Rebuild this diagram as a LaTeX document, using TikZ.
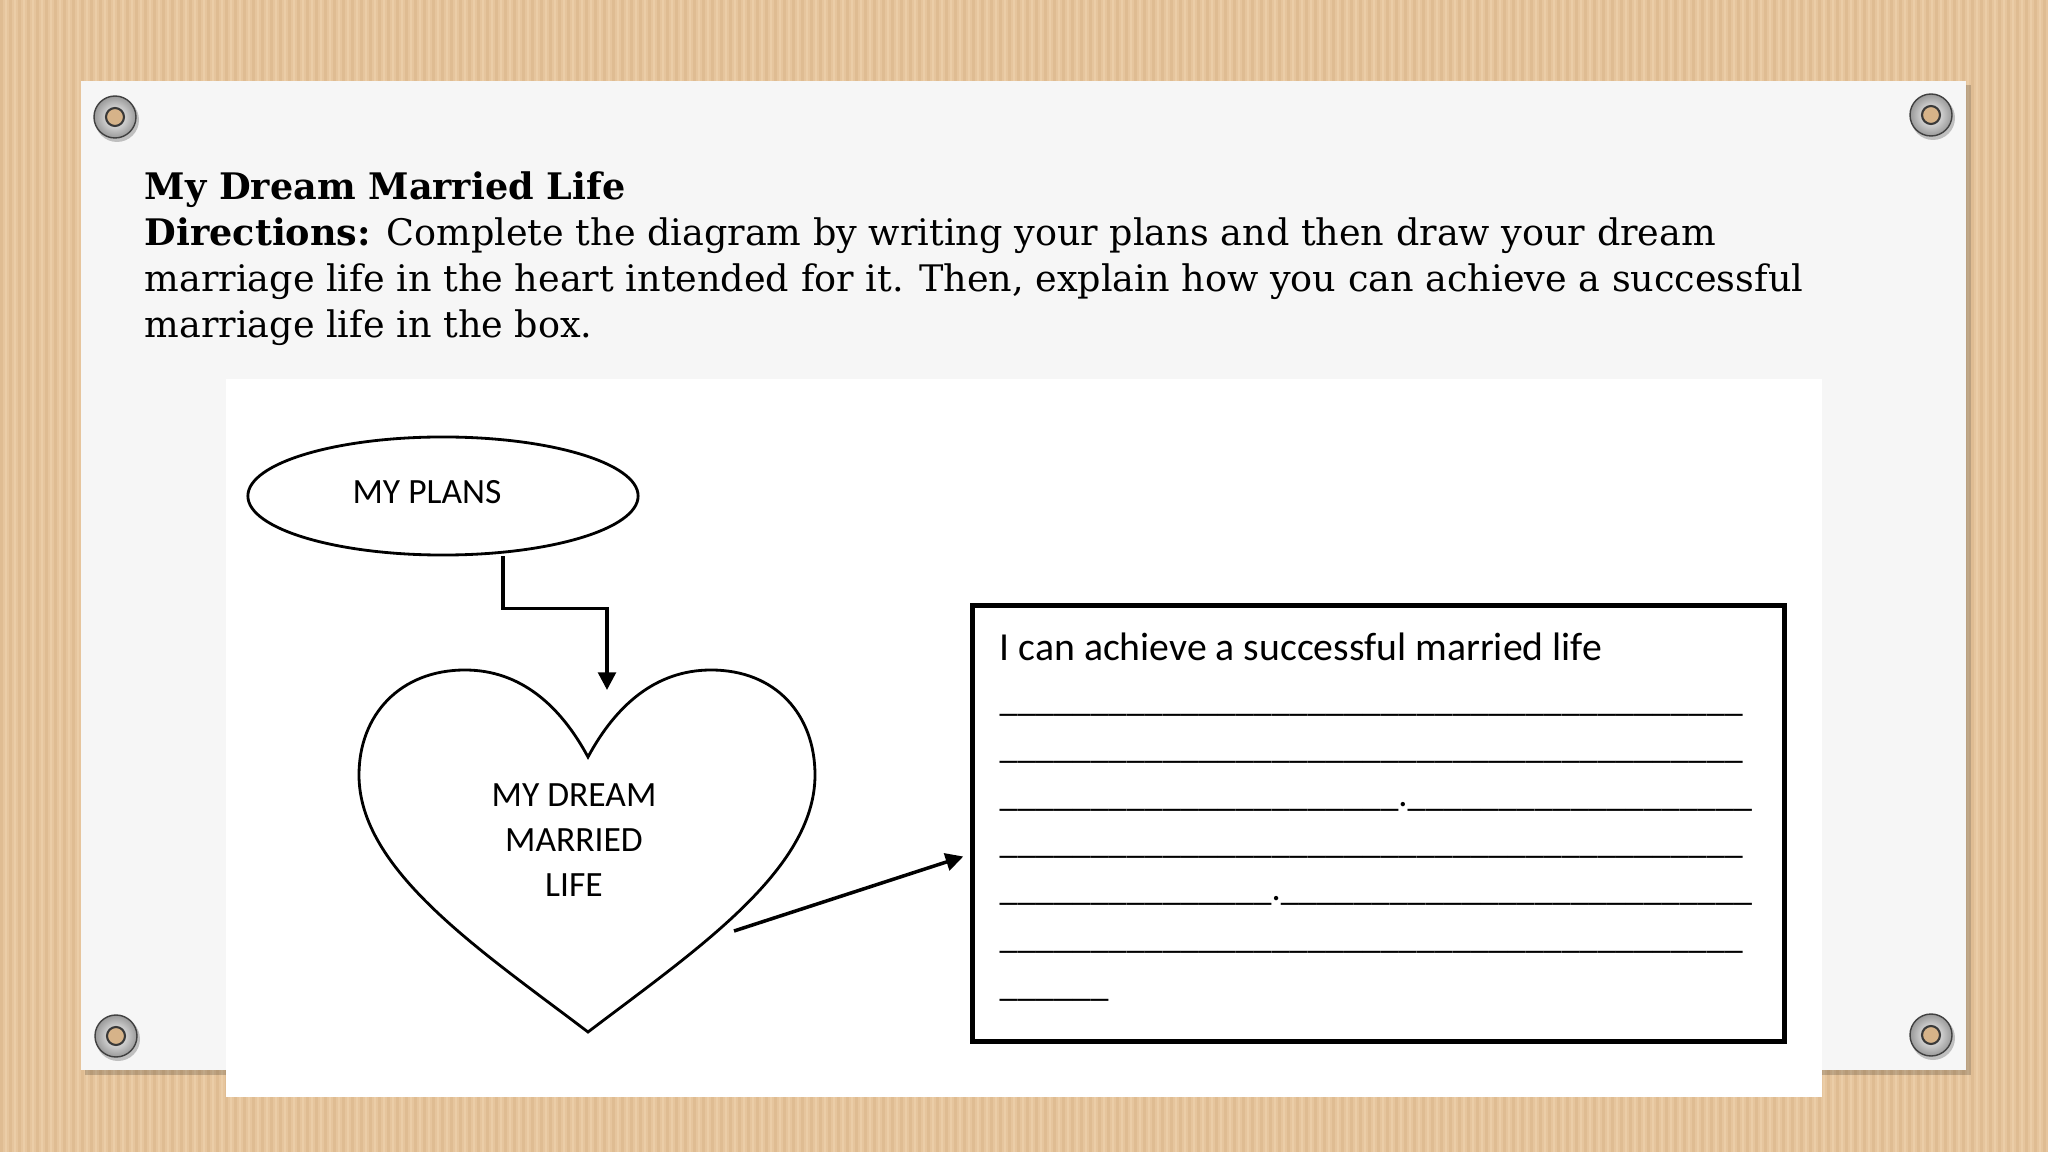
\documentclass[tikz,border=0pt]{standalone}
\usepackage{fontspec}
\setmainfont{DejaVu Serif}
\newfontfamily\calibri{Carlito}
\usetikzlibrary{calc}
\usetikzlibrary{shapes.geometric}
\usetikzlibrary{arrows.meta}
\definecolor{board}{HTML}{E6C59D}
\definecolor{boardline}{HTML}{DFBC92}
\definecolor{boardlight}{HTML}{EBCDA7}
\definecolor{sheet}{HTML}{F6F6F6}
\definecolor{hole}{HTML}{D6B389}
\tikzset{%
  outline/.style={draw=black,line width=0.8pt},
  flow/.style={line width=1pt,-{Triangle[length=5pt,width=5pt]}},
  plain/.style={font=\calibri\fontsize{10.1}{12.9}\selectfont,inner sep=0pt},
  blanks/.style={plain,anchor=base west,font=\calibri\fontsize{10.35}{12}\selectfont},
  heading/.style={anchor=base west,align=left,inner sep=0pt,
                  font=\fontsize{10.4}{13.1}\selectfont},
  answerbox/.style={draw=black,line width=1.4pt,minimum width=8.11cm,
                    minimum height=4.35cm,inner sep=0pt},
  grommet/.pic={
    \fill[black,opacity=0.22] (2,3) circle (22);
    \shade[inner color=white,outer color=gray!80] (0,0) circle (21);
    \draw[gray!50!black,line width=0.4pt] (0,0) circle (21);
    \fill[hole] (0,0) circle (9);
    \draw[gray!45!black,line width=0.6pt] (0,0) circle (9);
  },
}
\newcommand{\blank}[1]{\foreach\rep in {1,...,#1}{\_}}

\begin{document}
\begin{tikzpicture}[x=0.01cm,y=-0.01cm]
  \useasboundingbox (0,0) rectangle (2048,1152);
  \fill[board] (0,0) rectangle (2048,1152);
  \foreach \x in {0,9,...,2048} {
    \fill[boardline] (\x,0) rectangle ++(3,1152);
    \fill[boardlight] (\x+5,0) rectangle ++(2,1152);
  }
  \fill[black,opacity=0.18] (85,85) rectangle (1971,1075);
  \fill[sheet] (81,81) rectangle (1966,1070);
  \fill[white] (226,379) rectangle (1822,1097);
  \pic at (115,117) {grommet};
  \pic at (1931,115) {grommet};
  \pic at (1931,1035) {grommet};
  \pic at (116,1036) {grommet};

  \node[heading] (title) at (144,338) {\textbf{My Dream Married Life}\\
    \textbf{Directions:} Complete the diagram by writing your plans and then draw your dream\\
    marriage life in the heart intended for it. Then, explain how you can achieve a successful\\
    marriage life in the box.};

  \node[ellipse,outline,plain,text depth=0.08cm,minimum width=3.9cm,minimum height=1.18cm]
    (plans) at (443,496) {MY PLANS\hspace*{0.32cm}};

  \coordinate (dreamin) at (607,690);
  \coordinate (heartexit) at (734,931);
  \draw[outline] (588,757) .. controls (560,705) and (520,670) .. (465,670)
    .. controls (400,670) and (359,715) .. (359,775)
    .. controls (359,870) and (480,950) .. (588,1032)
    .. controls (696,950) and (815,870) .. (815,775)
    .. controls (815,715) and (776,670) .. (711,670)
    .. controls (656,670) and (616,705) .. cycle;
  \node[plain,align=center] (dream) at (574,840) {MY DREAM\\MARRIED\\LIFE};

  \node[answerbox] (answer) at (1378.5,823.5) {};
  \node[blanks,font=\calibri\fontsize{11.3}{13}\selectfont] (prompt) at (999,660)
    {I can achieve a successful married life};
  \node[blanks] (line1) at (999,711) {\blank{41}};
  \node[blanks] (line2) at (999,758) {\blank{41}};
  \node[blanks] (line3) at (999,806) {\blank{22}.\blank{19}};
  \node[blanks] (line4) at (999,853) {\blank{41}};
  \node[blanks] (line5) at (999,900) {\blank{15}.\blank{26}};
  \node[blanks] (line6) at (999,948) {\blank{41}};
  \node[blanks] (line7) at (999,996) {\blank{6}};

  \draw[flow] ($(plans.south)+(60,0)$) -- ++(0,52) -| (dreamin);
  \draw[flow] (heartexit) -- ($(answer.west)+(-7,33)$);
\end{tikzpicture}
\end{document}
